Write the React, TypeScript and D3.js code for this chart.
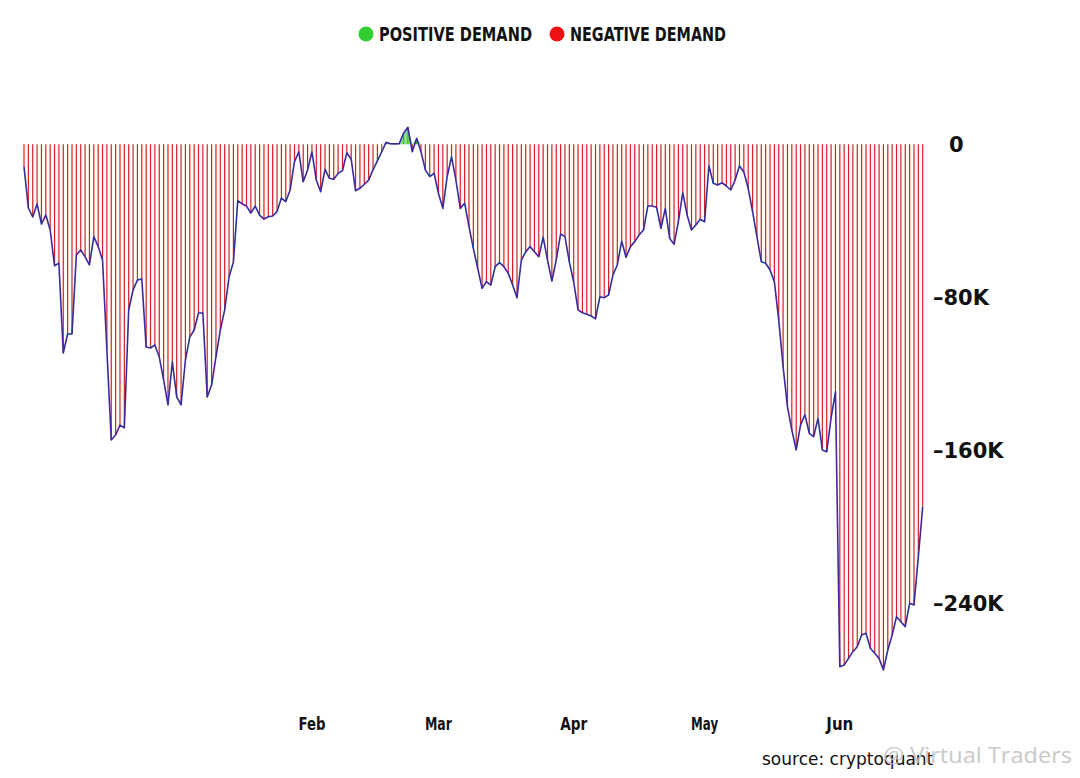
import React from "react";
import * as d3 from "d3";

// Daily net demand values (thousands), starting 2023-11-27
const demandK: number[] = [
  -11.7, -33.3, -38.0, -31.2, -41.7, -37.0, -44.8, -63.5, -62.1, -109.1,
  -99.2, -99.2, -57.9, -55.3, -58.8, -63.1, -48.3, -53.5, -60.5, -107.6,
  -154.6, -152.0, -146.8, -148.3, -86.6, -76.2, -71.0, -70.4, -106.0, -106.5,
  -104.9, -111.2, -123.2, -136.3, -113.8, -132.1, -136.3, -112.8, -100.8, -97.1,
  -88.2, -88.2, -132.1, -125.9, -111.2, -97.1, -86.6, -69.4, -61.5, -29.5,
  -31.2, -32.3, -35.9, -32.3, -37.0, -39.1, -37.9, -37.5, -35.2, -28.1,
  -30.0, -23.9, -9.1, -3.9, -19.6, -13.4, -4.0, -18.7, -24.8, -13.1,
  -17.8, -18.3, -15.2, -13.8, -4.4, -7.8, -24.3, -23.0, -20.9, -18.7,
  -13.4, -8.7, -3.9, 1.0, 0.3, 0.2, 0.3, 5.8, 8.9, -3.9,
  3.1, -3.9, -13.4, -16.9, -15.2, -25.6, -33.5, -16.9, -6.5, -18.7,
  -33.5, -30.8, -43.1, -54.4, -64.8, -75.3, -71.8, -73.6, -64.0, -61.9,
  -64.0, -67.5, -73.6, -80.2, -60.5, -56.2, -53.5, -56.2, -58.8, -48.6,
  -60.5, -71.5, -60.5, -46.9, -48.3, -61.5, -72.0, -86.6, -88.1, -88.9,
  -89.8, -91.3, -79.7, -80.2, -78.8, -68.3, -63.1, -50.6, -59.1, -53.5,
  -50.9, -47.4, -44.8, -32.3, -32.3, -32.9, -43.9, -33.5, -49.2, -52.3,
  -40.5, -25.3, -37.0, -44.8, -42.2, -39.2, -40.5, -11.3, -20.4, -21.3,
  -20.1, -21.8, -23.9, -18.7, -11.3, -14.5, -23.0, -35.2, -48.3, -61.4,
  -62.2, -65.7, -71.8, -91.9, -116.3, -137.2, -149.4, -159.8, -146.8, -141.5,
  -151.1, -152.9, -143.3, -159.8, -160.7, -143.1, -129.4, -273.2, -272.3, -268.8,
  -265.3, -262.7, -256.6, -255.7, -263.5, -266.1, -268.8, -274.9, -264.4, -256.6,
  -247.0, -249.6, -252.2, -240.0, -240.9, -215.6, -189.5,
];

const startDate = new Date(Date.UTC(2023, 10, 27));
const yTickValues: number[] = [0, -80, -160, -240];
const monthTicks: Date[] = [
  new Date(Date.UTC(2024, 1, 1)),
  new Date(Date.UTC(2024, 2, 1)),
  new Date(Date.UTC(2024, 3, 1)),
  new Date(Date.UTC(2024, 4, 1)),
  new Date(Date.UTC(2024, 5, 1)),
];
const legendLabels: string[] = ["POSITIVE DEMAND", "NEGATIVE DEMAND"];
const legendColors: string[] = ["#33cc33", "#ee1111"];
const sourceText = "source: cryptoquant";
const watermarkText = "@ Virtual Traders";

const W = 1080;
const H = 778;

export default function App() {
  const data = demandK.map((v, i) => ({ date: d3.utcDay.offset(startDate, i), v }));
  const x = d3
    .scaleUtc()
    .domain([startDate, data[data.length - 1].date])
    .range([24, 922.7]);
  const y = d3.scaleLinear().domain([0, -240]).range([144.3, 603.3]);

  const line = d3
    .line<{ date: Date; v: number }>()
    .x((d) => x(d.date))
    .y((d) => y(d.v));
  const posArea = d3
    .area<{ date: Date; v: number }>()
    .x((d) => x(d.date))
    .y0(y(0))
    .y1((d) => y(Math.max(0, d.v)));

  const fmt = (v: number) => (v === 0 ? "0" : "–" + Math.abs(v) + "K");
  const monthFmt = d3.utcFormat("%b");

  const boldFont = "'DejaVu Sans', sans-serif";
  const legendWidths = [153, 156];

  return (
    <svg
      width={W}
      height={H}
      style={{ position: "absolute", left: 0, top: 0, background: "#fff" }}
    >
      <rect x={0} y={0} width={W} height={H} fill="#fff" />
      {/* legend */}
      <g>
        {legendLabels.map((label, i) => {
          const gx = 366 + i * 191;
          return (
            <g key={label}>
              <circle cx={gx} cy={34} r={7.5} fill={legendColors[i]} />
              <text
                x={gx + 13}
                y={41}
                fontFamily={boldFont}
                fontWeight="bold"
                fontSize={19}
                textLength={legendWidths[i]}
                lengthAdjust="spacingAndGlyphs"
                fill="#111"
              >
                {label}
              </text>
            </g>
          );
        })}
      </g>

      {/* positive area */}
      <path d={posArea(data) || ""} fill="#8fdc8f" />

      {/* bars */}
      <g>
        {data.map((d, i) => (
          <line
            key={i}
            x1={x(d.date)}
            x2={x(d.date)}
            y1={y(0)}
            y2={y(d.v)}
            stroke={d.v >= 0 ? "#33bb33" : "#d42020"}
            strokeWidth={1.2}
          />
        ))}
      </g>

      {/* line */}
      <path d={line(data) || ""} fill="none" stroke="#3a2a9e" strokeWidth={1.6} strokeLinejoin="round" />

      {/* y axis labels */}
      <g>
        {yTickValues.map((t) => (
          <text
            key={t}
            x={933}
            dx={t === 0 ? 16 : 0}
            y={y(t) + 8}
            fontFamily={boldFont}
            fontWeight="bold"
            fontSize={21}
            fill="#111"
          >
            {fmt(t)}
          </text>
        ))}
      </g>

      {/* x axis labels */}
      <g>
        {monthTicks.map((m) => (
          <text
            key={m.toISOString()}
            x={x(m)}
            y={730}
            textAnchor="middle"
            fontFamily={boldFont}
            fontWeight="bold"
            fontSize={18}
            textLength={27}
            lengthAdjust="spacingAndGlyphs"
            fill="#111"
          >
            {monthFmt(m)}
          </text>
        ))}
      </g>

      {/* source */}
      <text x={762} y={765} fontFamily="'DejaVu Sans', sans-serif" fontSize={17} fill="#111">
        {sourceText}
      </text>
      <text
        x={883}
        y={763}
        fontFamily="'Open Sans', sans-serif"
        fontSize={22}
        textLength={189}
        lengthAdjust="spacingAndGlyphs"
        fill="#c4c4c4"
        opacity={0.9}
      >
        {watermarkText}
      </text>
    </svg>
  );
}
